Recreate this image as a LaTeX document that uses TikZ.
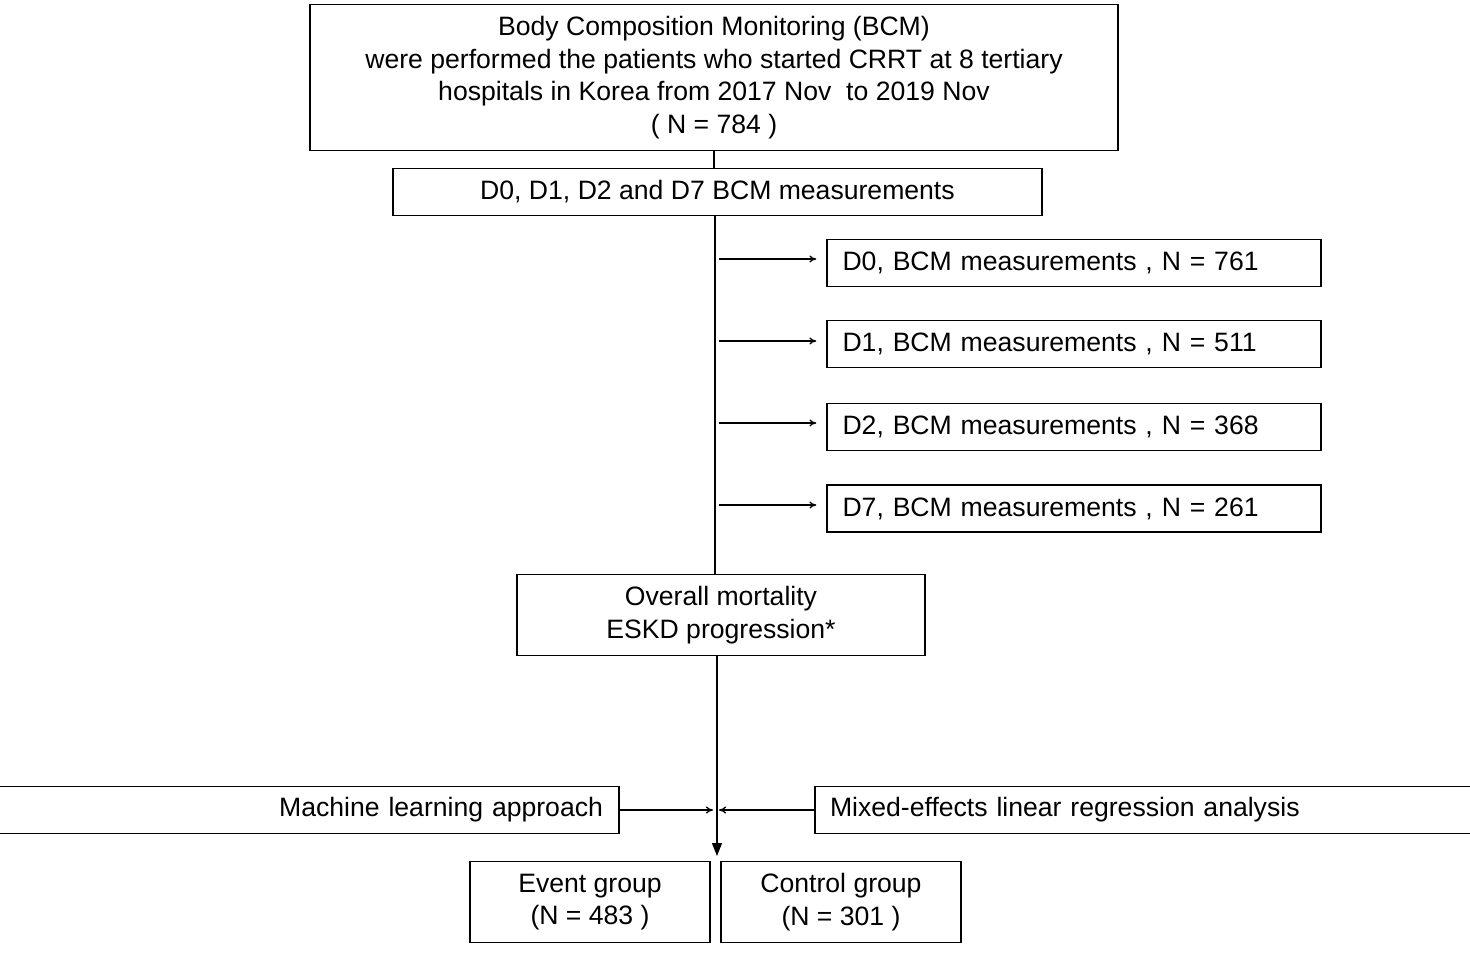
\documentclass[tikz,border=0pt]{standalone}
\usepackage{fontspec}
\setmainfont{Liberation Sans}
\usetikzlibrary{arrows.meta}
\begin{document}
\begin{tikzpicture}[x=1pt,y=-1pt,
  box/.style={draw,line width=1.3pt,inner sep=0pt,font=\fontsize{26.6}{32.5}\selectfont,align=center},
  conn/.style={line width=1.3pt},
  thin arrow/.style={line width=1.3pt,-{To[length=7pt,width=7pt]}},
  big arrow/.style={line width=1.3pt,-{Triangle[length=13pt,width=10pt]}}]
\useasboundingbox (0,0) rectangle (1470,969);
\node[box,minimum width=808pt,minimum height=146pt] (top) at (714,77.5)
  {Body Composition Monitoring (BCM)\\were performed the patients who started CRRT at 8 tertiary\\hospitals in Korea from 2017 Nov\ \ to 2019 Nov\\( N = 784 )};
\node[box,minimum width=649pt,minimum height=47pt] (meas) at (717.5,192) {D0, D1, D2 and D7 BCM measurements};
\node[box,minimum width=494pt,minimum height=47pt,text width=463pt,align=left] (d0) at (1074,263) {D0, BCM measurements , N = 761};
\node[box,minimum width=494pt,minimum height=47pt,text width=463pt,align=left] (d1) at (1074,344) {D1, BCM measurements , N = 511};
\node[box,minimum width=494pt,minimum height=47pt,text width=463pt,align=left] (d2) at (1074,427) {D2, BCM measurements , N = 368};
\node[box,minimum width=494pt,minimum height=47pt,text width=463pt,align=left] (d7) at (1074,508.5) {D7, BCM measurements , N = 261};
\node[box,minimum width=408pt,minimum height=81pt] (mort) at (721,615) {Overall mortality\\ESKD progression*};
\node[box,minimum width=640pt,minimum height=47pt,text width=608pt,align=right] (ml) at (299,810) {Machine learning approach};
\node[box,minimum width=670pt,minimum height=47pt,text width=640pt,align=left] (mx) at (1150,810) {Mixed-effects linear regression analysis};
\node[box,minimum width=240pt,minimum height=81pt] (ev) at (590,902) {Event group\\(N = 483 )};
\node[box,minimum width=240pt,minimum height=81pt] (ct) at (841,902) {Control group\\(N = 301 )};
\coordinate (a0) at (719,259);
\coordinate (a1) at (719,341);
\coordinate (a2) at (719,423);
\coordinate (a3) at (719,505);
\coordinate (jl) at (713,810);
\coordinate (jr) at (719,810);
\draw[conn] (top.south -| 714,0) -- (meas.north -| 714,0);
\draw[conn] (meas.south -| 715,0) -- (mort.north -| 715,0);
\draw[big arrow] (mort.south -| 717,0) -- (717,856) coordinate (tip);
\draw[thin arrow] (a0) -- ([xshift=-10pt]a0 -| d0.west);
\draw[thin arrow] (a1) -- ([xshift=-10pt]a1 -| d1.west);
\draw[thin arrow] (a2) -- ([xshift=-10pt]a2 -| d2.west);
\draw[thin arrow] (a3) -- ([xshift=-10pt]a3 -| d7.west);
\draw[thin arrow] (jl -| ml.east) -- (jl);
\draw[thin arrow] (jr -| mx.west) -- (jr);
\end{tikzpicture}
\end{document}
